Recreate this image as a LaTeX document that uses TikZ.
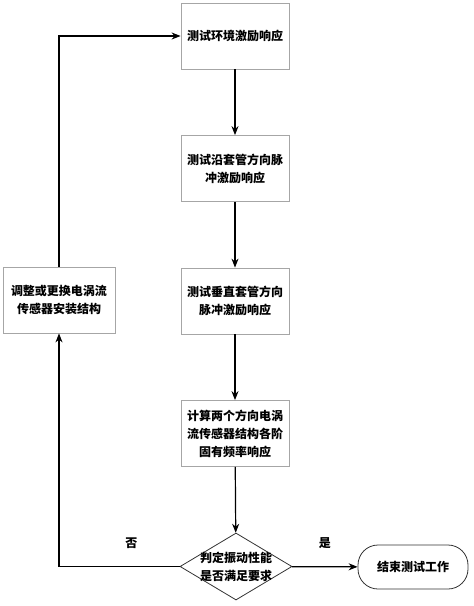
\documentclass[tikz,border=0pt]{standalone}
\usepackage{fontspec}
\newfontfamily\cjk{Noto Sans CJK SC}
\usepackage{tikz}
\usetikzlibrary{arrows.meta,positioning,shapes.geometric}

\begin{document}
\begin{tikzpicture}[x=1pt, y=1pt, >={Stealth[length=9pt,width=7pt]}, node distance={132.5pt}, line width=1.2pt,
    main/.style = {draw=gray!70, line width=0.8pt, fill=white, minimum width=108pt, minimum height=66pt, align=center, font=\cjk\bfseries\fontsize{12pt}{18pt}\selectfont},
    decision/.style = {draw=black!80, line width=0.8pt, diamond, minimum width=112pt, minimum height=67pt, inner sep=0pt},
    finish/.style = {draw=black!80, line width=0.8pt, rounded corners=20pt, minimum width=110pt, minimum height=44pt, font=\cjk\bfseries\fontsize{12pt}{18pt}\selectfont},
    lbl/.style = {font=\cjk\bfseries\fontsize{12pt}{18pt}\selectfont}]
    \useasboundingbox (0,0) rectangle (474,-606);

    % Nodes
    \node[main] (env) at (235,-36) {测试环境激励响应};
    \node[main] (along) [below of=env] {测试沿套管方向脉\\冲激励响应};
    \node[main] (perp) [below of=along] {测试垂直套管方向\\脉冲激励响应};
    \node[main] (calc) [below of=perp] {计算两个方向电涡\\流传感器结构各阶\\固有频率响应};
    \node[decision] (judge) at (236,-566.5) {};
    \node[lbl, align=center] (judgetxt) at (judge) {判定振动性能\\是否满足要求};
    \node[finish] (stop) at (413,-567) {结束测试工作};
    \node[main, minimum width=112pt] (adjust) at (59,-300) {调整或更换电涡流\\传感器安装结构};

    % helper corners
    \coordinate (lowleft) at (adjust |- judge);
    \coordinate (upleft) at (adjust |- env);

    % Directed edges
    \draw[->] (env) -- (along);
    \draw[->] (along) -- (perp);
    \draw[->] (perp) -- (calc);
    \draw[->] (calc) -- (judge);
    \draw[->] (judge) -- node[lbl, above=14pt, pos=0.5] (yes) {是} (stop);
    \draw[->] (judge.west) -- node[lbl, above=14pt, pos=0.4] (no) {否} (lowleft) -- (adjust);
    \draw[->] (adjust) -- (upleft) -- (env);
\end{tikzpicture}
\end{document}
